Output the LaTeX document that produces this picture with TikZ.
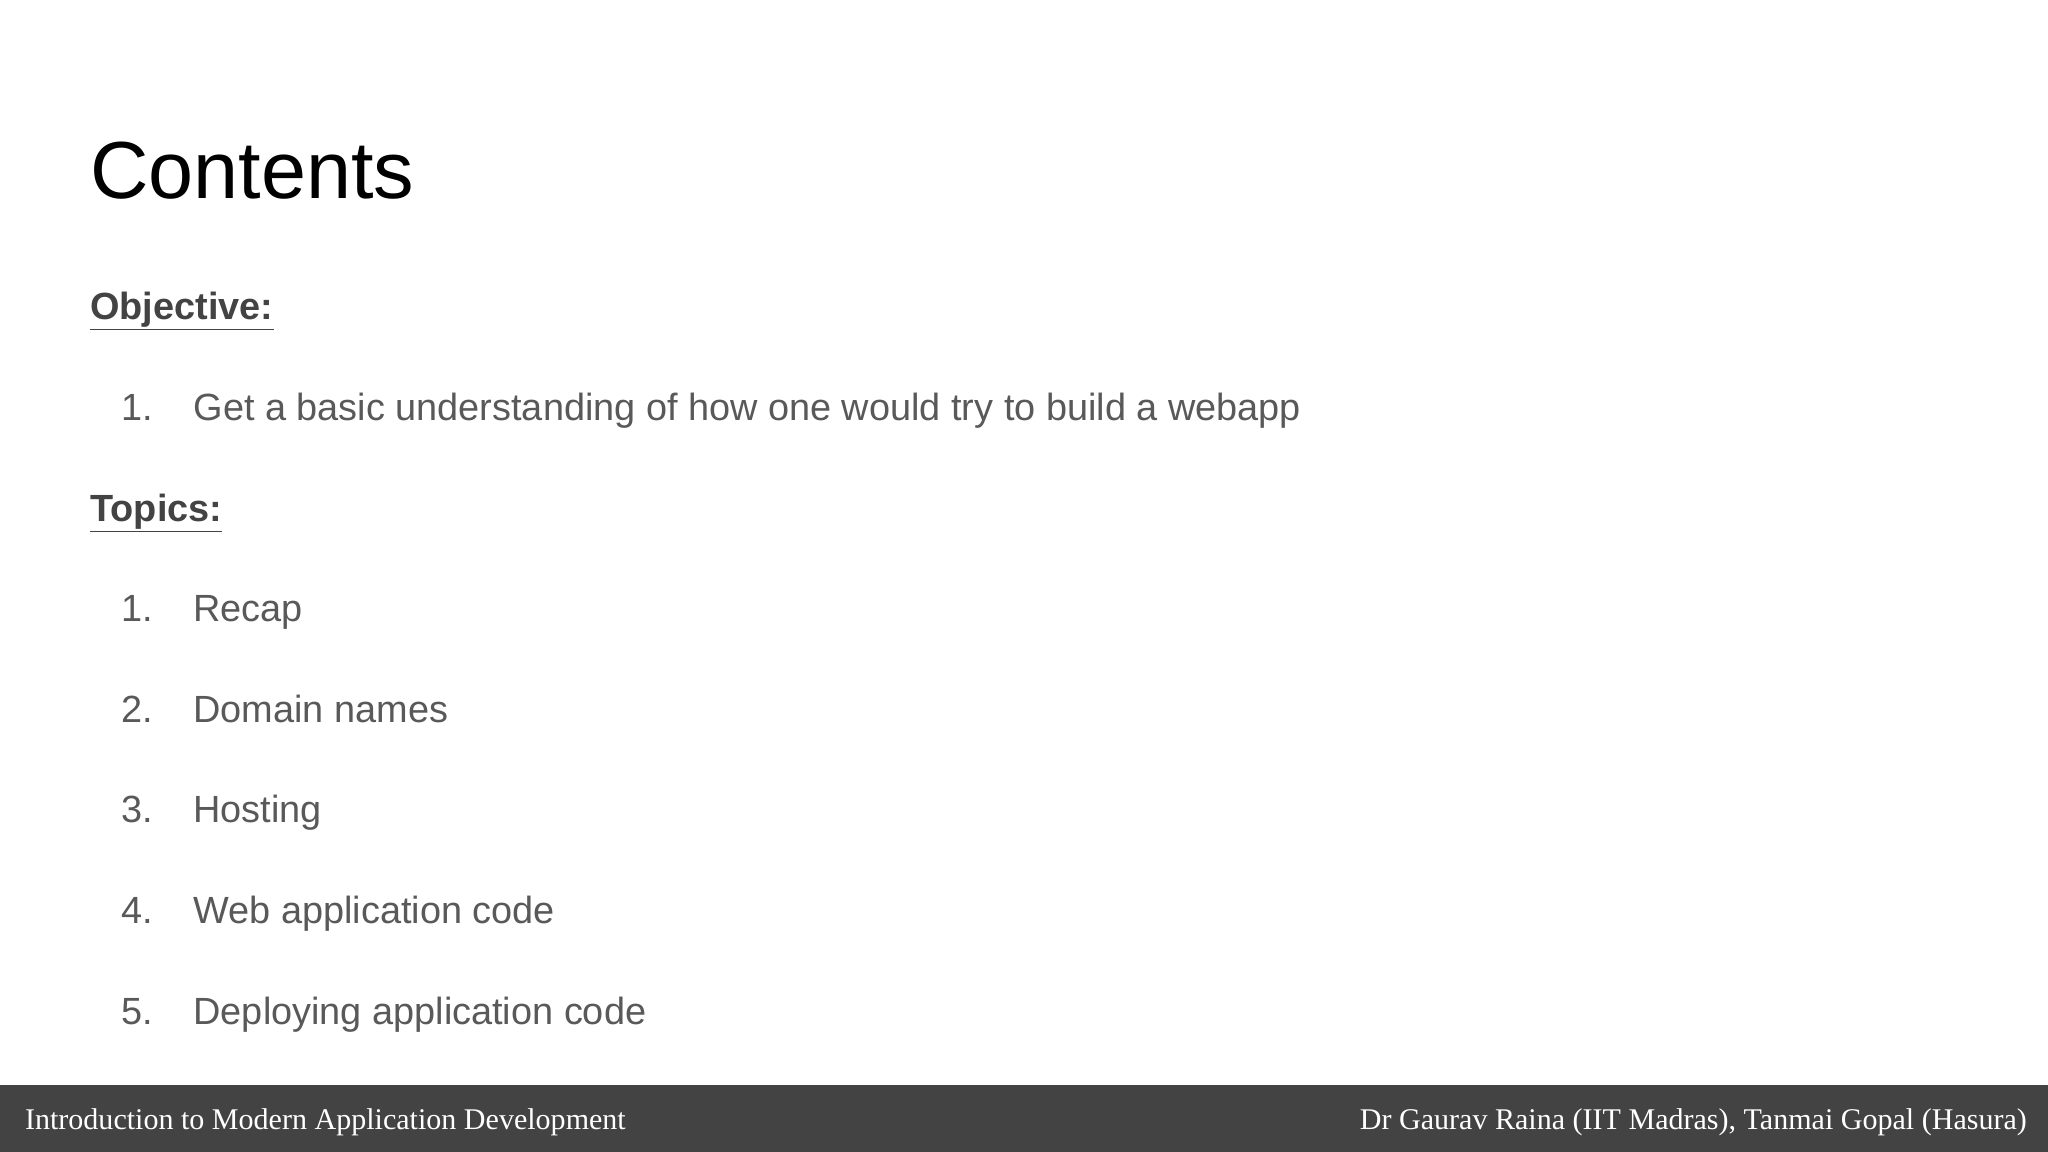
\documentclass[tikz,border=0pt]{standalone}
\usepackage{fontspec}
\setmainfont{Liberation Sans}
\newfontfamily\footfont{Liberation Serif}
\definecolor{bodygray}{HTML}{595959}
\definecolor{headgray}{HTML}{434343}
\definecolor{barcol}{HTML}{434343}
\begin{document}
\begin{tikzpicture}[x=1pt,y=-1pt,
  body/.style={anchor=base west,inner sep=0pt,text=bodygray,font=\fontsize{29}{34}\selectfont},
  head/.style={anchor=base west,inner sep=0pt,text=headgray,font=\bfseries\fontsize{29}{34}\selectfont},
  foot/.style={inner sep=0pt,text=white,font=\footfont\fontsize{23}{27}\selectfont}]
\useasboundingbox (0,0) rectangle (1568,882);
\fill[white] (0,0) rectangle (1568,882);
\fill[barcol] (0,831) rectangle (1568,882);
\node[anchor=base west,inner sep=0pt,font=\fontsize{62}{70}\selectfont] (title) at (69,152) {Contents};
\node[head] (obj) at (69,245) {\underline{Objective:}};
\node[body] (n1) at (93,322) {1.};
\node[body] (t1) at (148,322) {Get a basic understanding of how one would try to build a webapp};
\node[head] (top) at (69,399) {\underline{Topics:}};
\node[body] (m1) at (93,476) {1.};
\node[body] (s1) at (148,476) {Recap};
\node[body] (m2) at (93,553) {2.};
\node[body] (s2) at (148,553) {Domain names};
\node[body] (m3) at (93,630) {3.};
\node[body] (s3) at (148,630) {Hosting};
\node[body] (m4) at (93,707) {4.};
\node[body] (s4) at (148,707) {Web application code};
\node[body] (m5) at (93,784) {5.};
\node[body] (s5) at (148,784) {Deploying application code};
\node[foot,anchor=base west] (fl) at (19,865) {Introduction to Modern Application Development};
\node[foot,anchor=base east] (fr) at (1552,865) {Dr Gaurav Raina (IIT Madras), Tanmai Gopal (Hasura)};
\end{tikzpicture}
\end{document}
